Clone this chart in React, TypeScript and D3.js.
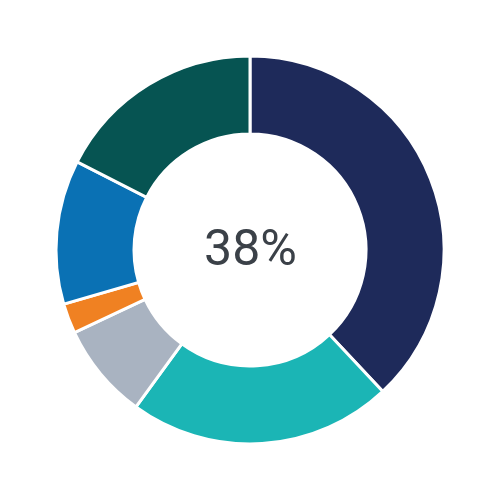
import { useEffect, useRef } from 'react';
import * as d3 from 'd3';

const categories = ['A', 'B', 'C', 'D', 'E', 'F'];
const values = [38, 22, 8, 2.5, 12, 17.5];
const colors = ['#1e2a5a', '#1bb5b5', '#a9b3c1', '#f08122', '#0a71b4', '#065452'];
const centerLabel = '38%';

export default function App() {
  const svgRef = useRef<SVGSVGElement>(null);

  useEffect(() => {
    if (!svgRef.current) {
      return;
    }

    const width = 500;
    const height = 500;
    const outer = 194;
    const inner = 116;

    const svg = d3.select(svgRef.current);
    svg.selectAll('*').remove();

    const g = svg.append('g').attr('transform', `translate(${width / 2},${height / 2})`);

    const pie = d3
      .pie<number>()
      .sort(null)
      .value((d) => d);

    const arc = d3.arc<d3.PieArcDatum<number>>().innerRadius(inner).outerRadius(outer);

    g.selectAll('path')
      .data(pie(values))
      .enter()
      .append('path')
      .attr('d', arc)
      .attr('fill', (_d, i) => colors[i])
      .attr('stroke', '#fff')
      .attr('stroke-width', 3)
      .append('title')
      .text((_d, i) => categories[i]);

    // baseline set by hand so the digits sit where the reference has them
    g.append('text')
      .attr('text-anchor', 'middle')
      .attr('x', 0.5)
      .attr('y', 15)
      .style('font-family', 'Roboto, sans-serif')
      .style('font-size', '50px')
      .attr('fill', '#3b4148')
      .text(centerLabel);
  }, []);

  return (
    <svg
      ref={svgRef}
      width={500}
      height={500}
      style={{ position: 'absolute', left: 0, top: 0, display: 'block' }}
    />
  );
}
